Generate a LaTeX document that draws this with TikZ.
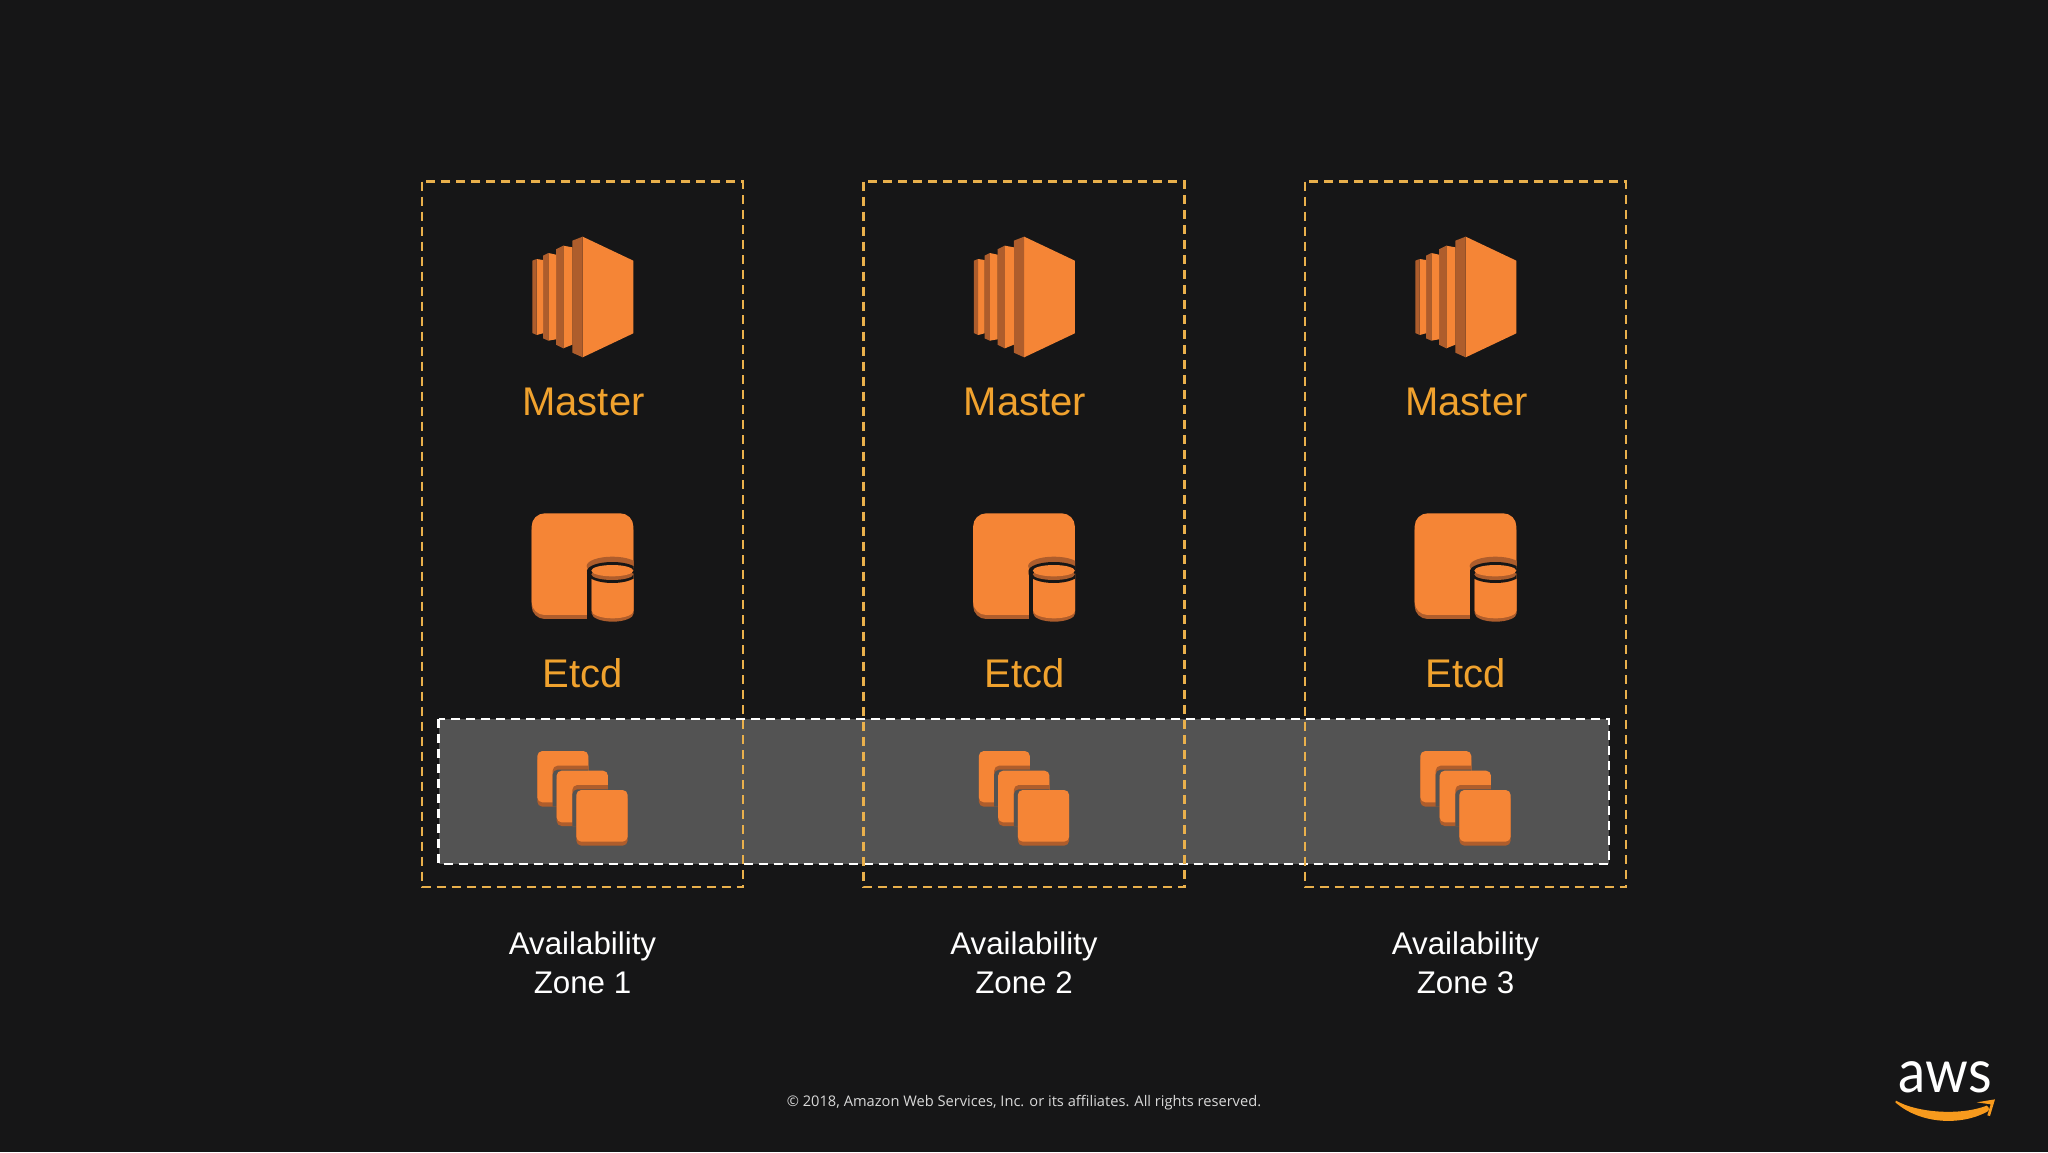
\documentclass[tikz,border=0pt]{standalone}
\usepackage{fontspec}
\setmainfont{Liberation Sans}
\newfontfamily\footfont{Open Sans}
\newfontfamily\logofont{Lato}

\definecolor{slide}{HTML}{161617}
\definecolor{tray}{HTML}{535353}
\definecolor{awsorange}{HTML}{F58536}
\definecolor{awsdark}{HTML}{AE5D2C}
\definecolor{azline}{HTML}{E9B04C}
\definecolor{tiertext}{HTML}{F0A22E}
\definecolor{smile}{HTML}{F79A1D}

\tikzset{
    tier/.style={anchor=base,inner sep=0pt,text=tiertext,font=\fontsize{40}{46}\selectfont},
    zonename/.style={align=center,inner sep=0pt,text=white,font=\fontsize{31.3}{39}\selectfont},
    zonebox/.style={draw=azline,line width=2.3pt,dash pattern=on 9pt off 6pt},
    traybox/.style={draw=white,fill=tray,line width=2.5pt,dash pattern=on 9pt off 6pt},
    pics/serverstack/.style={code={
        \begin{scope}[scale=0.3333]
            \fill[awsorange] (248,80) -- (400,152) -- (400,370) -- (248,442) -- cycle;
            \fill[awsdark] (217,92) -- (248,80) -- (248,442) -- (217,428) -- cycle;
            \fill[awsorange] (190,107) -- (217,112) -- (217,404) -- (190,415) -- cycle;
            \fill[awsdark] (168,118) -- (190,107) -- (190,415) -- (168,404) -- cycle;
            \fill[awsorange] (145,129) -- (168,134) -- (168,388) -- (145,392) -- cycle;
            \fill[awsdark] (129,137) -- (145,129) -- (145,392) -- (129,385) -- cycle;
            \fill[awsorange] (110,147) -- (129,150) -- (129,370) -- (110,375) -- cycle;
            \fill[awsdark] (97,152) -- (110,147) -- (110,375) -- (97,369) -- cycle;
        \end{scope}
    }},
    pics/dbstore/.style={code={
        \begin{scope}[scale=0.3333]
            \fill[awsdark,rounded corners=13pt] (95,82) rectangle (400,387);
            \fill[awsorange,rounded corners=13pt] (95,70) rectangle (400,375);
            \begin{scope}
                \clip (90,60) rectangle (401,400);
                \fill[awsdark] (337,228) ellipse [x radius=77, y radius=28];
                \fill[slide] (337,243) ellipse [x radius=76, y radius=27];
                \fill[slide] (261,243) rectangle (401,400);
                \fill[awsdark] (275,250) -- (275,370) arc [start angle=180, end angle=360, x radius=63, y radius=-25] -- (401,250) -- cycle;
                \fill[awsorange] (275,250) -- (275,362) arc [start angle=180, end angle=360, x radius=63, y radius=-23] -- (401,250) -- cycle;
                \fill[slide] (337,250) ellipse [x radius=76, y radius=29];
                \fill[awsdark] (337,253) ellipse [x radius=63, y radius=17];
                \fill[awsorange] (337,242) ellipse [x radius=63, y radius=17];
            \end{scope}
        \end{scope}
    }},
    pics/cardstack/.style={code={
        \begin{scope}[scale=0.3333]
            % back card
            \fill[awsdark,rounded corners=5pt] (412,166) rectangle (565,320);
            \fill[awsorange,rounded corners=5pt] (412,153) rectangle (565,307);
            \begin{scope}
                \clip[rounded corners=5pt] (412,153) rectangle (565,320);
                \fill[awsdark,rounded corners=5pt] (458,197) rectangle (640,400);
                \fill[tray,rounded corners=5pt] (458,209) rectangle (640,400);
            \end{scope}
            % middle card
            \fill[awsdark,rounded corners=5pt] (470,224) rectangle (624,378);
            \fill[awsorange,rounded corners=5pt] (470,212) rectangle (624,367);
            \begin{scope}
                \clip[rounded corners=5pt] (470,212) rectangle (624,378);
                \fill[awsdark,rounded corners=5pt] (517,255) rectangle (700,450);
                \fill[tray,rounded corners=5pt] (517,268) rectangle (700,450);
            \end{scope}
            % front card
            \fill[awsdark,rounded corners=5pt] (529,282) rectangle (683,437);
            \fill[awsorange,rounded corners=5pt] (529,270) rectangle (683,425);
        \end{scope}
    }},
    pics/awssmile/.style={code={
        \begin{scope}[scale=0.3333]
            \fill[smile] (108,182) .. controls (170,218) and (300,228) .. (380,197) .. controls (390,203) and (388,212) .. (380,216) .. controls (300,258) and (180,252) .. (106,187) -- cycle;
            \fill[smile] (350,187) -- (405,178) -- (390,228) -- (382,226) -- (392,193) -- cycle;
        \end{scope}
    }}
}

\begin{document}
\begin{tikzpicture}[x=1pt,y=-1pt]
    \fill[slide] (0,0) rectangle (2048,1152);
    \useasboundingbox (0,0) rectangle (2048,1152);

    \draw[traybox] (438.5,719) rectangle (1609,864);

    \draw[zonebox] (422,181.5) rectangle (743,887);
    \draw[zonebox] (863.5,181.5) rectangle (1184.5,887);
    \draw[zonebox] (1305,181.5) rectangle (1626,887);

    \pic (server1) at (500,210) {serverstack};
    \pic (server2) at (941.5,210) {serverstack};
    \pic (server3) at (1383,210) {serverstack};

    \node (master1) at (583.5,415) [tier] {Master};
    \node (master2) at (1025,415) [tier] {Master};
    \node (master3) at (1466.5,415) [tier] {Master};

    \pic (db1) at (500,490) {dbstore};
    \pic (db2) at (941.5,490) {dbstore};
    \pic (db3) at (1383,490) {dbstore};

    \node (etcd1) at (583,687) [tier] {Etcd};
    \node (etcd2) at (1024.5,687) [tier] {Etcd};
    \node (etcd3) at (1466,687) [tier] {Etcd};

    \pic (cards1) at (400,700) {cardstack};
    \pic (cards2) at (841.5,700) {cardstack};
    \pic (cards3) at (1283,700) {cardstack};

    \node (zone1) at (582.5,962.5) [zonename] {Availability \\ Zone 1};
    \node (zone2) at (1024,962.5) [zonename] {Availability \\ Zone 2};
    \node (zone3) at (1465.5,962.5) [zonename] {Availability \\ Zone 3};

    \node (copyright) at (1024,1106) [anchor=base,inner sep=0pt,text=white!85!black,font=\footfont\fontsize{14.65}{18}\selectfont] {© 2018, Amazon Web Services, Inc. or its affiliates. All rights reserved.};

    \node (awstext) at (1945.5,1092.5) [anchor=base,inner sep=0pt,text=white,xscale=0.91,transform shape,font=\logofont\fontsize{60}{60}\selectfont] {aws};
    \pic (awslogo) at (1860,1040) {awssmile};
\end{tikzpicture}
\end{document}
